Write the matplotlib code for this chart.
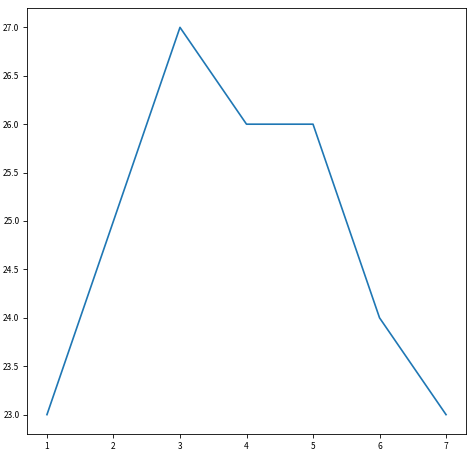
import matplotlib
matplotlib.use("Agg")
import matplotlib.pyplot as plt

x = [1, 2, 3, 4, 5, 6, 7]
y = [23, 25, 27, 26, 26, 24, 23]

plt.rcParams['font.family'] = ['Noto Sans CJK SC', 'DejaVu Sans']
fig = plt.figure(figsize=(4.74, 4.53), dpi=100)
ax = fig.add_axes([27/474, 1 - 434/453, (466-27)/474, (434-8)/453])
ax.plot(x, y, color='#1f77b4', linewidth=1.2)
ax.tick_params(labelsize=6, length=3, width=0.6, pad=2.5)
for s in ax.spines.values():
    s.set_linewidth(0.6)
fig.savefig('out.png', dpi=100)
